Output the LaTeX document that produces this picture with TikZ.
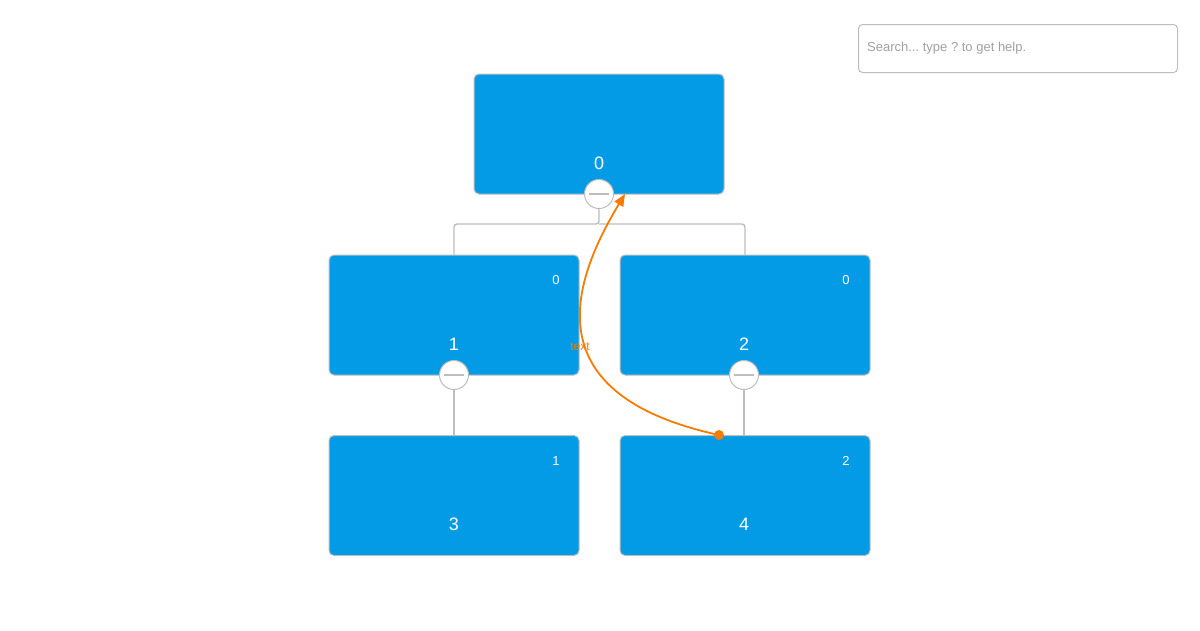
\documentclass[tikz,border=0pt]{standalone}
\usepackage{fontspec}
\setmainfont{Liberation Sans}
\usetikzlibrary{arrows.meta}
\definecolor{boxblue}{HTML}{039BE5}
\definecolor{edgegrey}{HTML}{BDBDBD}
\definecolor{linkorange}{HTML}{F57C00}
\definecolor{hintgrey}{HTML}{A0A0A0}
\tikzset{
  card/.style={draw=edgegrey, line width=1pt, fill=boxblue, rounded corners=5pt, minimum width=250pt, minimum height=120pt, inner sep=0pt},
  bigtxt/.style={text=white, font=\fontsize{18}{18}\selectfont, inner sep=0pt},
  smalltxt/.style={text=white, font=\fontsize{13}{13}\selectfont, inner sep=0pt},
  toggle/.style={draw=edgegrey, line width=1pt, fill=white, circle, minimum size=29pt, inner sep=0pt},
  conn/.style={draw=edgegrey, line width=1.4pt},
}
\begin{document}
\frenchspacing
\begin{tikzpicture}[x=1pt,y=-1pt]
\useasboundingbox (0,0) rectangle (1200,630);
% search box
\node[draw=edgegrey, line width=1pt, rounded corners=4pt, minimum width=319pt, minimum height=48pt, inner sep=0pt, anchor=north west] (search) at (858,24) {};
\node[anchor=west, text=hintgrey, font=\fontsize{13}{13}\selectfont, inner sep=0pt] (searchtxt) at (867,48) {Search... type ? to get help.};
% cards
\node[card] (n0) at (599,134) {};
\node[card] (n1) at (454,315) {};
\node[card] (n2) at (745,315) {};
\node[card] (n3) at (454,495.5) {};
\node[card] (n4) at (745,495.5) {};
% labels
\node[bigtxt] (l0) at (599,163) {0};
\node[bigtxt] (l1) at (454,344) {1};
\node[bigtxt] (l2) at (744,344) {2};
\node[bigtxt] (l3) at (454,524) {3};
\node[bigtxt] (l4) at (744,524) {4};
\node[smalltxt] (s1) at (556,280) {0};
\node[smalltxt] (s2) at (846,280) {0};
\node[smalltxt] (s3) at (556,461) {1};
\node[smalltxt] (s4) at (846,461) {2};
% connectors
\coordinate (j0) at (599,224);
\draw[conn, rounded corners=3pt] (599,209) -- (j0) -| (n1.north);
\draw[conn, rounded corners=3pt] (j0) -| (n2.north);
\draw[conn] (454,390) -- (n3.north);
\draw[conn] (744,390) -- (744,436);
% toggles
\foreach \nm/\px/\py in {t0/599/194, t1/454/375, t2/744/375} {
  \node[toggle] (\nm) at (\px,\py) {};
  \draw[edgegrey, line width=1.4pt] ([xshift=-10pt]\nm.center) -- ([xshift=10pt]\nm.center);
}
% link
\coordinate (ls) at (719,435);
\coordinate (le) at (625,194);
\fill[linkorange] (ls) circle (5pt);
\draw[linkorange, line width=1.8pt, -{Triangle[length=12pt,width=10pt]}] (ls) .. controls (535,395) and (570,285) .. (le);
\node[text=linkorange, font=\fontsize{12}{12}\selectfont, inner sep=0pt] (lt) at (580,347) {text};
\end{tikzpicture}
\end{document}
